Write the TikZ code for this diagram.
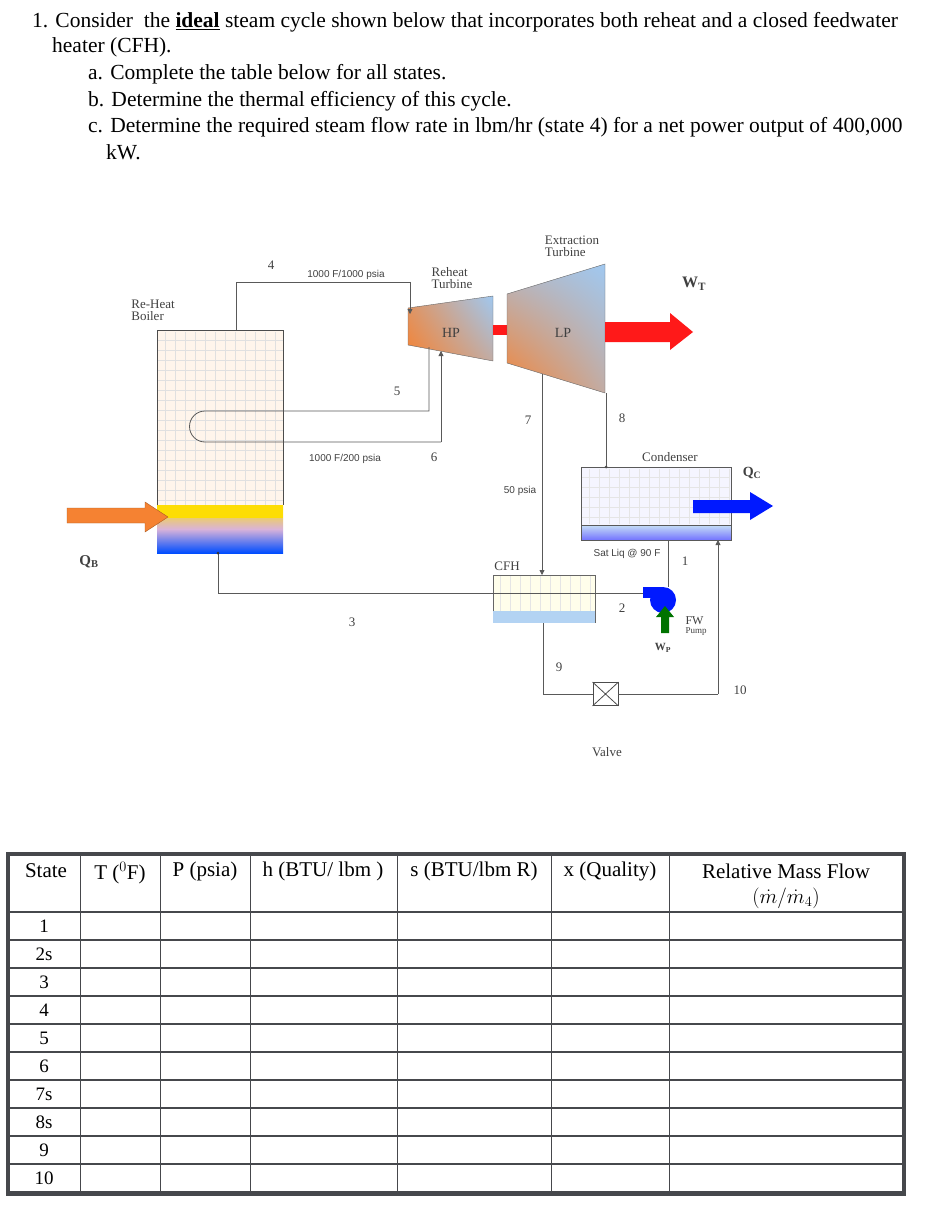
\documentclass[tikz,border=0pt]{standalone}
\usepackage{fontspec}
\setmainfont{Liberation Serif}
\newfontfamily\sfx{Liberation Sans}
\usetikzlibrary{arrows.meta,shadings}
\definecolor{orng}{RGB}{245,130,50}
\definecolor{lblue}{RGB}{160,200,240}
\definecolor{tgray}{RGB}{70,72,76}
\begin{document}
\begin{tikzpicture}[x=1pt,y=-1pt,
  pipe/.style={draw=black!65,line width=0.8pt},
  arr/.style={pipe,-{Triangle[length=5pt,width=5pt]}},
  q/.style={anchor=west,inner sep=0pt,font=\fontsize{21.5}{24}\selectfont},
  lab/.style={inner sep=0pt,font=\fontsize{13}{12}\selectfont,text=black!75,align=left},
  num/.style={inner sep=0pt,font=\fontsize{13}{13}\selectfont,text=black!75},
  tiny/.style={inner sep=0pt,font=\sfx\fontsize{10}{10}\selectfont,text=black!75},
  cell/.style={inner sep=0pt,font=\fontsize{21}{22}\selectfont}]
\useasboundingbox (0,0) rectangle (928,1214);
% question
\node[q] (l1) at (32,22) {1. Consider\ \ the \underline{\textbf{ideal}} steam cycle shown below that incorporates both reheat and a closed feedwater};
\node[q] (l2) at (52,47) {heater (CFH).};
\node[q] (l3) at (88,74) {a. Complete the table below for all states.};
\node[q] (l4) at (88,101) {b. Determine the thermal efficiency of this cycle.};
\node[q] (l5) at (88,127) {c. Determine the required steam flow rate in lbm/hr (state 4) for a net power output of 400,000};
\node[q] (l6) at (106,152) {kW.};
% boiler
\fill[orange!8] (157,330) rectangle (283,505);
\foreach \x in {165,175,...,280} \draw[black!12,line width=0.4pt] (\x,332) -- (\x,505);
\foreach \y in {340,350,...,500} \draw[black!12,line width=0.4pt] (157,\y) -- (283,\y);
\shade[top color=yellow!80!orange, bottom color=blue!70!cyan, middle color=violet!30] (157,505) rectangle (283,553);
\fill[yellow!80!orange] (157,505) rectangle (283,518);
\draw[black!70,line width=0.9pt] (157,505) -- (157,330) -- (283,330) -- (283,505);
\node[lab] (boilerlab) at (153,310) {Re-Heat\\Boiler};
\coordinate (boiltop) at (236,330);
\coordinate (boilbot) at (218,553);
% QB arrow
\fill[orng,draw=orng!70!black] (67,508) -- (145,508) -- (145,502) -- (168,517) -- (145,532) -- (145,523) -- (67,523) -- cycle;
\node[num,font=\bfseries\fontsize{15}{15}\selectfont] (qb) at (89,562) {Q\textsubscript{B}};
% HP turbine
\shade[lower left=orng, upper right=lblue, lower right=lblue!60!orng, upper left=orng!70!lblue] (408,308) -- (493,296) -- (493,361) -- (408,345) -- cycle;
\draw[black!60] (408,308) -- (493,296) -- (493,361) -- (408,345) -- cycle;
\node[num,font=\fontsize{14}{14}\selectfont] (hp) at (451,333) {HP};
\node[lab] (rtlab) at (452,278) {Reheat\\Turbine};
\coordinate (hpin) at (410,314);
\coordinate (hpout) at (429,347);
\coordinate (hpre) at (441,351);
% shaft
\fill[red!90] (493,325) rectangle (507,335);
% LP turbine
\shade[lower left=orng, upper right=lblue, lower right=lblue!60!orng, upper left=lblue!80!orng] (507,294) -- (605,264) -- (605,393) -- (507,363) -- cycle;
\draw[black!60] (507,294) -- (605,264) -- (605,393) -- (507,363) -- cycle;
\node[num,font=\fontsize{14}{14}\selectfont] (lp) at (563,333) {LP};
\node[lab] (etlab) at (572,246) {Extraction\\Turbine};
\coordinate (lp7) at (542,374);
\coordinate (lp8) at (606,393);
% WT arrow
\fill[red!90] (605,322) -- (670,322) -- (670,313) -- (693,332) -- (670,350) -- (670,342) -- (605,342) -- cycle;
\node[num,font=\bfseries\fontsize{16}{16}\selectfont] (wt) at (694,284) {W\textsubscript{T}};
% pipe 4
\coordinate (c4a) at (236,282);
\coordinate (c4b) at (410,282);
\draw[pipe] (boiltop) -- (c4a) -- (c4b);
\draw[arr] (c4b) -- (hpin);
\node[num] (n4) at (271,265) {4};
\node[tiny] (t4) at (346,275) {1000 F/1000 psia};
% reheat loop
\coordinate (r1) at (429,411);
\coordinate (r2) at (205,411);
\coordinate (r4) at (441,442);
\draw[pipe] (hpout) -- (r1) -- (r2) arc[start angle=-90,end angle=-270,radius=15.5] -- (r4);
\draw[arr] (r4) -- (hpre);
\node[num] (n5) at (397,391) {5};
\node[tiny] (t6) at (345,459) {1000 F/200 psia};
\node[num] (n6) at (434,457) {6};
% condenser
\fill[blue!4] (581,467) rectangle (731,525);
\foreach \x in {589,599,...,729} \draw[black!10,line width=0.4pt] (\x,469) -- (\x,524);
\foreach \y in {477,487,...,520} \draw[black!10,line width=0.4pt] (582,\y) -- (730,\y);
\shade[top color=lblue!60, bottom color=blue!55] (581,525) rectangle (731,540);
\draw[black!65,line width=0.8pt] (581,467) rectangle (731,540);
\draw[black!65] (581,525) -- (731,525);
\node[lab] (condlab) at (670,457) {Condenser};
\coordinate (condin) at (606,467);
\coordinate (condout) at (668,540);
\coordinate (condret) at (718,540);
% Qc arrow
\fill[blue!90!cyan] (693,500) -- (750,500) -- (750,492) -- (773,506) -- (750,520) -- (750,513) -- (693,513) -- cycle;
\node[num,font=\bfseries\fontsize{14}{14}\selectfont] (qc) at (752,473) {Q\textsubscript{C}};
% 8
\draw[pipe] (lp8) -- (condin);
\fill[black!70] (condin) circle (1.5pt);
\node[num] (n8) at (622,418) {8};
% CFH
\fill[yellow!8] (493,575) rectangle (595,611);
\foreach \x in {500,510,...,590} \draw[black!10,line width=0.4pt] (\x,576) -- (\x,611);
\fill[lblue!80] (493,611) rectangle (595,623);
\draw[black!60,line width=0.8pt] (493,611) -- (493,575) -- (595,575) -- (595,623);
\node[lab] (cfhlab) at (507,566) {CFH};
\coordinate (cfhin) at (542,575);
\coordinate (cfhout) at (543,623);
% 7
\draw[arr] (lp7) -- (cfhin);
\node[num] (n7) at (528,420) {7};
\node[tiny] (t7) at (520,491) {50 psia};
% pump
\coordinate (pumpin) at (668,587);
\fill[blue!90!cyan] (663,600) circle (13pt);
\fill[blue!90!cyan] (643,587) rectangle (663,598);
\draw[pipe] (condout) -- (pumpin);
\fill[green!45!black] (661,633) -- (661,617) -- (656,617) -- (665,606) -- (674,617) -- (669,617) -- (669,633) -- cycle;
\node[lab,align=left,font=\fontsize{12}{9}\selectfont] (fwlab) at (696,626) {FW\\{\fontsize{9}{9}\selectfont Pump}};
\node[num,font=\bfseries\fontsize{11}{11}\selectfont] (wp) at (663,648) {W\textsubscript{P}};
\node[tiny] (tsat) at (627,554) {Sat Liq @ 90 F};
\node[num] (n1) at (685,561) {1};
\node[num] (n2) at (622,608) {2};
% line 3
\coordinate (p3a) at (643,593);
\coordinate (p3b) at (218,593);
\draw[pipe] (p3a) -- (p3b) -- (boilbot);
\fill[black!80] (boilbot) circle (1.5pt);
\node[num] (n3) at (352,622) {3};
% 9-10
\coordinate (v1) at (543,694);
\coordinate (v2) at (718,694);
\node[draw=black!70,minimum width=25pt,minimum height=23pt,inner sep=0pt,line width=0.8pt] (valve) at (605.5,694) {};
\draw[black!70,line width=0.8pt] (valve.north west) -- (valve.south east) (valve.north east) -- (valve.south west);
\draw[pipe] (cfhout) -- (v1) -- (valve.west);
\draw[pipe] (valve.east) -- (v2);
\draw[arr] (v2) -- (condret);
\node[num] (n9) at (559,667) {9};
\node[num] (n10) at (740,690) {10};
\node[lab] (valvelab) at (607,752) {Valve};
% table
\draw[tgray,line width=4pt] (8,854) rectangle (904,1194);
\draw[tgray,line width=1.5pt] (8,912) -- (904,912);
\foreach \y in {940,968,...,1192} \draw[tgray,line width=1.5pt] (8,\y) -- (904,\y);
\foreach \x in {80,160,250,397,551,669} \draw[tgray,line width=1pt] (\x,854) -- (\x,1194);
\node[cell] (h1) at (46,871) {State};
\node[cell] (h2) at (120,873) {T ($^{0}$F)};
\node[cell] (h3) at (205,871) {P (psia)};
\node[cell] (h4) at (323,871) {h (BTU/ lbm )};
\node[cell] (h5) at (474,871) {s (BTU/lbm R)};
\node[cell] (h6) at (610,871) {x (Quality)};
\node[cell] (h7) at (786,871) {Relative Mass Flow};
\node[cell,font=\fontsize{22}{22}\selectfont] (h8) at (786,898) {$(\dot m/\dot m_{4})$};
\foreach \s [count=\i] in {1,2s,3,4,5,6,7s,8s,9,10}
  \node[cell,font=\fontsize{19}{20}\selectfont] at (44,912+28*\i-14) {\s};
\end{tikzpicture}
\end{document}
